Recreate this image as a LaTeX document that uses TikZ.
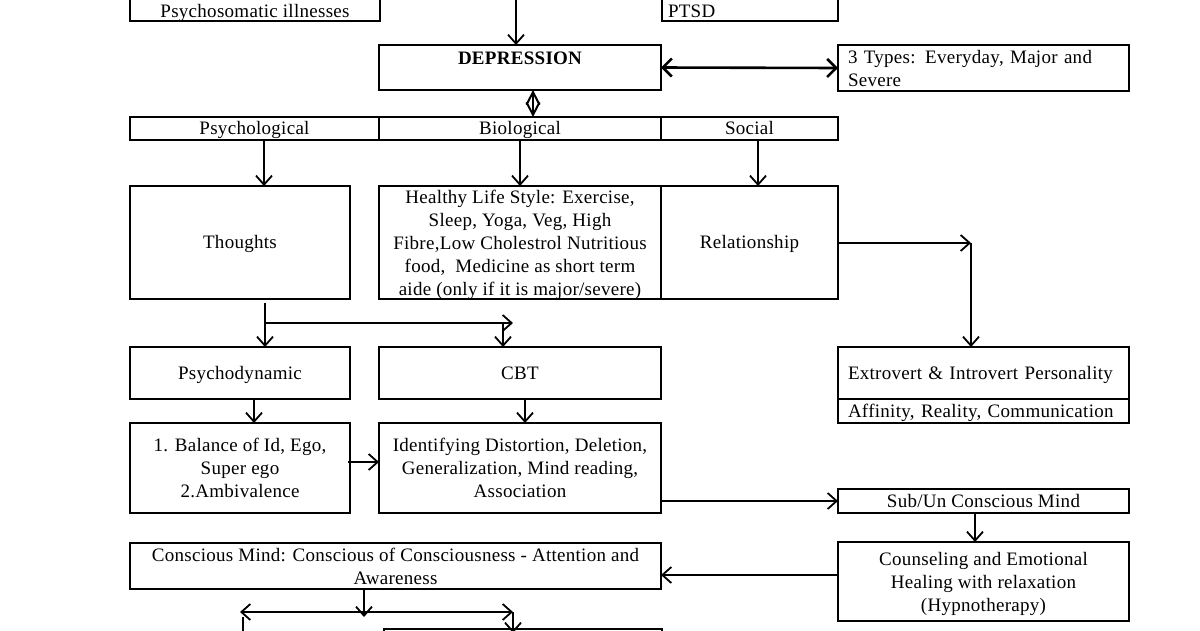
\documentclass[tikz,border=0pt]{standalone}
\usepackage{fontspec}
\newfontfamily\diagfont{Liberation Serif}[LetterSpace=1.5]
\usetikzlibrary{arrows.meta}
\begin{document}
\begin{tikzpicture}[x=1pt,y=-1pt,
  box/.style={draw, line width=1.4pt, inner sep=0pt, outer sep=0pt, align=center, text depth=0pt,
    font=\diagfont\fontsize{19}{23}\selectfont},
  one/.style={text height=12.5pt, text depth=0pt},
  lbox/.style={box, align=left, inner xsep=10pt, text width=271pt},
  arr/.style={line width=1.8pt, -{Straight Barb[length=9pt,width=16pt]}},
  darr/.style={line width=2.6pt, {Straight Barb[length=9pt,width=18pt]}-{Straight Barb[length=9pt,width=18pt]}},
  diam/.style={line width=2pt, {Straight Barb[length=12.5pt,width=13pt]}-{Straight Barb[length=12.5pt,width=13pt]}},
  harr/.style={line width=1.8pt, {Straight Barb[length=9pt,width=16pt]}-{Straight Barb[length=9pt,width=16pt]}},
  plain/.style={line width=1.8pt}
]
\useasboundingbox (0,0) rectangle (1200,630);
\fill[white] (0,0) rectangle (1200,630);

% partial top boxes
\node[box, anchor=south, minimum width=250pt, text height=60pt, text depth=4pt] (psb) at (255,21) {Psychosomatic illnesses};
\node[box, anchor=south west, align=left, inner xsep=6pt, text width=164pt, text height=60pt, text depth=4pt] (ptsd) at (662,21) {PTSD};

% main boxes
\node[box, minimum width=282pt, minimum height=45pt, text height=12pt, text depth=18.5pt] (dep) at (520,67.5) {\bfseries DEPRESSION};
\node[lbox, text depth={}, minimum width=291pt, minimum height=46pt] (types) at (983.5,68) {3 Types: Everyday, Major and\\Severe};

\node[box, one, minimum width=249pt, minimum height=23pt] (psy) at (254.5,128.5) {Psychological};
\node[box, one, minimum width=282pt, minimum height=23pt] (bio) at (520,128.5) {Biological};
\node[box, one, minimum width=177pt, minimum height=23pt] (soc) at (749.5,128.5) {Social};

\node[box, one, minimum width=220pt, minimum height=113pt] (thoughts) at (240,242.5) {Thoughts};
\node[box, minimum width=282pt, minimum height=113pt] (healthy) at (520,242.5) {Healthy Life Style: Exercise,\\Sleep, Yoga, Veg, High\\Fibre,Low Cholestrol Nutritious\\food,~ Medicine as short term\\aide (only if it is major/severe)};
\node[box, one, minimum width=177pt, minimum height=113pt] (rel) at (749.5,242.5) {Relationship};

\node[box, one, minimum width=220pt, minimum height=52pt] (psyd) at (240,373) {Psychodynamic};
\node[box, one, minimum width=282pt, minimum height=52pt] (cbt) at (520,373) {CBT};
\node[lbox, one, minimum width=291pt, minimum height=52pt] (ext) at (983.5,373) {Extrovert \& Introvert Personality};
\node[lbox, one, minimum width=291pt, minimum height=24pt] (aff) at (983.5,411) {Affinity, Reality, Communication};

\node[box, minimum width=220pt, minimum height=90pt] (bal) at (240,468) {1. Balance of Id, Ego,\\Super ego\\2.Ambivalence};
\node[box, minimum width=282pt, minimum height=90pt] (ident) at (520,468) {Identifying Distortion, Deletion,\\Generalization, Mind reading,\\Association};
\node[box, one, minimum width=291pt, minimum height=24pt] (sub) at (983.5,501) {Sub/Un Conscious Mind};

\node[box, minimum width=531pt, minimum height=46pt] (cons) at (395.5,566) {Conscious Mind: Conscious of Consciousness - Attention and\\Awareness};
\node[box, minimum width=291pt, minimum height=79pt] (coun) at (983.5,581.5) {Counseling and Emotional\\Healing with relaxation\\(Hypnotherapy)};

% partial bottom box
\draw[line width=2.8pt] (384,700) -- (384,629) -- (662,629) -- (662,700);

% coordinates
\coordinate (tin) at (516,-10);
\coordinate (c1) at (971,243);
\coordinate (tb) at (265,303);
\coordinate (tj) at (265,323);
\coordinate (tr) at (513,323);
\coordinate (tc) at (503,323);
\coordinate (c2) at (364,617);
\coordinate (hl) at (240,612);
\coordinate (hr) at (513,612);
\coordinate (vl1) at (243,617);
\coordinate (vl2) at (243,640);
\coordinate (dr) at (513,633);

% connectors
\draw[arr] (tin) -- (dep.north -| tin);
\draw[darr] (dep.east) -- (types.west);
\draw[diam] ([xshift=13pt]dep.south) -- ([xshift=13pt]bio.north);

\draw[arr] ([xshift=9.5pt]psy.south) -- ([xshift=9.5pt]psy.south |- thoughts.north);
\draw[arr] (bio.south) -- (healthy.north);
\draw[arr] ([xshift=8.5pt]soc.south) -- ([xshift=8.5pt]soc.south |- rel.north);

\draw[arr] (rel.east |- c1) -- (c1);
\draw[arr] (c1) -- (ext.north -| c1);

\draw[arr] (tb) -- (psyd.north -| tb);
\draw[arr] (tj) -- (tr);
\draw[arr] (tc) -- (cbt.north -| tc);

\draw[arr] ([xshift=14pt]psyd.south) -- ([xshift=14pt]psyd.south |- bal.north);
\draw[arr] ([xshift=5pt]cbt.south) -- ([xshift=5pt]cbt.south |- ident.north);
\draw[arr] ([xshift=-2pt,yshift=6pt]bal.east) -- ([yshift=6pt]ident.west);
\draw[arr] (sub.west -| ident.east) -- (sub.west);
\draw[arr] ([xshift=-8.5pt]sub.south) -- ([xshift=-8.5pt]sub.south |- coun.north);
\draw[arr] ([yshift=6.5pt]coun.west) -- ([yshift=6.5pt]coun.west -| cons.east);

\draw[arr] (cons.south -| c2) -- (c2);
\draw[harr] (hl) -- (hr);
\draw[plain] (vl1) -- (vl2);
\draw[arr] (hr) -- (dr);
\end{tikzpicture}
\end{document}
